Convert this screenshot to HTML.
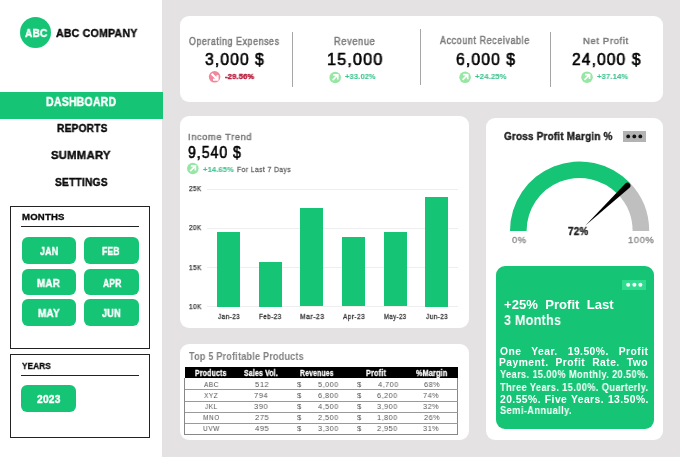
<!DOCTYPE html>
<html><head><meta charset="utf-8"><style>html,body{margin:0;padding:0;}body{width:680px;height:457px;position:relative;overflow:hidden;background:#e4e2e3;font-family:"Liberation Sans",sans-serif;}body>div,body>svg{position:absolute;box-sizing:content-box;}.t{white-space:nowrap;transform-origin:0 0;will-change:transform;}</style></head><body>
<div style="left:0px;top:0px;width:162.2px;height:457px;background:#fff;"></div>
<div style="left:20px;top:17px;width:31px;height:31px;border-radius:50%;background:#16c476"></div>
<div class="t" style="left:24.65px;top:27.50px;font-size:11.34px;line-height:11.34px;color:#fff;font-weight:bold;transform:scaleX(0.892);-webkit-text-stroke:0.4px #fff;letter-spacing:0.23px;">ABC</div>
<div class="t" style="left:56.34px;top:27.68px;font-size:11.19px;line-height:11.19px;color:#0a0a0a;font-weight:bold;transform:scaleX(0.946);-webkit-text-stroke:0.39px #0a0a0a;letter-spacing:0.22px;">ABC COMPANY</div>
<div style="left:0px;top:92px;width:163px;height:27px;background:#16c476;"></div>
<div class="t" style="left:46.11px;top:95.59px;font-size:12.06px;line-height:12.06px;color:#fff;font-weight:bold;transform:scaleX(0.874);-webkit-text-stroke:0.42px #fff;letter-spacing:0.24px;">DASHBOARD</div>
<div class="t" style="left:56.64px;top:122.38px;font-size:11.77px;line-height:11.77px;color:#0a0a0a;font-weight:bold;transform:scaleX(0.865);-webkit-text-stroke:0.41px #0a0a0a;letter-spacing:0.24px;">REPORTS</div>
<div class="t" style="left:51.06px;top:149.18px;font-size:11.77px;line-height:11.77px;color:#0a0a0a;font-weight:bold;transform:scaleX(0.961);-webkit-text-stroke:0.41px #0a0a0a;letter-spacing:0.24px;">SUMMARY</div>
<div class="t" style="left:54.74px;top:175.73px;font-size:11.77px;line-height:11.77px;color:#0a0a0a;font-weight:bold;transform:scaleX(0.869);-webkit-text-stroke:0.41px #0a0a0a;letter-spacing:0.24px;">SETTINGS</div>
<div style="left:10px;top:206px;width:138px;height:141px;border:1px solid #222"></div>
<div class="t" style="left:22.28px;top:212.08px;font-size:9.59px;line-height:9.59px;color:#0a0a0a;font-weight:bold;-webkit-text-stroke:0.34px #0a0a0a;letter-spacing:0.19px;">MONTHS</div>
<div style="left:21px;top:226px;width:118px;height:1px;background:#222;"></div>
<div style="left:21.5px;top:237px;width:54.5px;height:26.7px;border-radius:6px;background:#16c476"></div>
<div class="t" style="left:40.07px;top:246.74px;font-size:10.47px;line-height:10.47px;color:#fff;font-weight:bold;transform:scaleX(0.853);-webkit-text-stroke:0.37px #fff;letter-spacing:0.21px;">JAN</div>
<div style="left:84px;top:237px;width:54.7px;height:26.7px;border-radius:6px;background:#16c476"></div>
<div class="t" style="left:102.44px;top:246.74px;font-size:10.47px;line-height:10.47px;color:#fff;font-weight:bold;transform:scaleX(0.820);-webkit-text-stroke:0.37px #fff;letter-spacing:0.21px;">FEB</div>
<div style="left:21.5px;top:268.5px;width:54.5px;height:26.7px;border-radius:6px;background:#16c476"></div>
<div class="t" style="left:37.26px;top:278.94px;font-size:10.47px;line-height:10.47px;color:#fff;font-weight:bold;transform:scaleX(0.938);-webkit-text-stroke:0.37px #fff;letter-spacing:0.21px;">MAR</div>
<div style="left:84px;top:268.5px;width:54.7px;height:26.7px;border-radius:6px;background:#16c476"></div>
<div class="t" style="left:102.94px;top:278.94px;font-size:10.47px;line-height:10.47px;color:#fff;font-weight:bold;transform:scaleX(0.813);-webkit-text-stroke:0.37px #fff;letter-spacing:0.21px;">APR</div>
<div style="left:21.5px;top:299.2px;width:54.5px;height:26.7px;border-radius:6px;background:#16c476"></div>
<div class="t" style="left:37.95px;top:307.97px;font-size:10.61px;line-height:10.61px;color:#fff;font-weight:bold;transform:scaleX(0.938);-webkit-text-stroke:0.37px #fff;letter-spacing:0.21px;">MAY</div>
<div style="left:84px;top:299.2px;width:54.7px;height:26.7px;border-radius:6px;background:#16c476"></div>
<div class="t" style="left:102.26px;top:307.97px;font-size:10.61px;line-height:10.61px;color:#fff;font-weight:bold;transform:scaleX(0.866);-webkit-text-stroke:0.37px #fff;letter-spacing:0.21px;">JUN</div>
<div style="left:10px;top:354px;width:138px;height:82px;border:1px solid #222"></div>
<div class="t" style="left:22.08px;top:360.75px;font-size:9.45px;line-height:9.45px;color:#0a0a0a;font-weight:bold;transform:scaleX(0.865);-webkit-text-stroke:0.33px #0a0a0a;letter-spacing:0.19px;">YEARS</div>
<div style="left:21px;top:375px;width:118px;height:1px;background:#222;"></div>
<div style="left:21px;top:385px;width:55px;height:27px;border-radius:6px;background:#16c476"></div>
<div class="t" style="left:36.69px;top:394.91px;font-size:10.03px;line-height:10.03px;color:#fff;font-weight:bold;transform:scaleX(1.022);-webkit-text-stroke:0.35px #fff;letter-spacing:0.20px;">2023</div>
<div style="left:180px;top:16px;width:483px;height:85.7px;background:#fff;border-radius:9px"></div>
<div style="left:180px;top:116px;width:289px;height:212px;background:#fff;border-radius:9px"></div>
<div style="left:486px;top:118px;width:177px;height:322px;background:#fff;border-radius:9px"></div>
<div style="left:180px;top:343.5px;width:289px;height:96.5px;background:#fff;border-radius:9px"></div>
<div class="t" style="left:189.20px;top:36.66px;font-size:10.03px;line-height:10.03px;color:#7a7a7a;transform:scaleX(0.876);-webkit-text-stroke:0.45px #7a7a7a;letter-spacing:0.70px;">Operating Expenses</div>
<div class="t" style="left:205.20px;top:50.78px;font-size:17.15px;line-height:17.15px;color:#000;transform:scaleX(0.914);-webkit-text-stroke:0.65px #000;letter-spacing:1.20px;">3,000 $</div>
<div class="t" style="left:225.35px;top:73.38px;font-size:7.99px;line-height:7.99px;color:#b8203f;font-weight:bold;transform:scaleX(0.950);-webkit-text-stroke:0.45px #b8203f;letter-spacing:0.16px;">-29.56%</div>
<div class="t" style="left:333.96px;top:36.89px;font-size:10.17px;line-height:10.17px;color:#7a7a7a;transform:scaleX(0.907);-webkit-text-stroke:0.45px #7a7a7a;letter-spacing:0.71px;">Revenue</div>
<div class="t" style="left:326.78px;top:51.50px;font-size:16.72px;line-height:16.72px;color:#000;transform:scaleX(0.970);-webkit-text-stroke:0.64px #000;letter-spacing:1.17px;">15,000</div>
<div class="t" style="left:344.80px;top:72.98px;font-size:7.99px;line-height:7.99px;color:#40c290;font-weight:bold;transform:scaleX(0.937);-webkit-text-stroke:0.1px #40c290;letter-spacing:0.16px;">+33.02%</div>
<div class="t" style="left:440.00px;top:36.49px;font-size:10.17px;line-height:10.17px;color:#7a7a7a;transform:scaleX(0.876);-webkit-text-stroke:0.45px #7a7a7a;letter-spacing:0.71px;">Account Receivable</div>
<div class="t" style="left:455.76px;top:50.78px;font-size:17.15px;line-height:17.15px;color:#000;transform:scaleX(0.918);-webkit-text-stroke:0.65px #000;letter-spacing:1.20px;">6,000 $</div>
<div class="t" style="left:475.34px;top:72.98px;font-size:7.99px;line-height:7.99px;color:#40c290;font-weight:bold;transform:scaleX(0.965);-webkit-text-stroke:0.1px #40c290;letter-spacing:0.16px;">+24.25%</div>
<div class="t" style="left:583.35px;top:36.13px;font-size:9.88px;line-height:9.88px;color:#7a7a7a;transform:scaleX(0.954);-webkit-text-stroke:0.45px #7a7a7a;letter-spacing:0.69px;">Net Profit</div>
<div class="t" style="left:572.42px;top:50.96px;font-size:17.30px;line-height:17.30px;color:#000;transform:scaleX(0.903);-webkit-text-stroke:0.66px #000;letter-spacing:1.21px;">24,000 $</div>
<div class="t" style="left:596.70px;top:72.98px;font-size:7.99px;line-height:7.99px;color:#40c290;font-weight:bold;transform:scaleX(0.950);-webkit-text-stroke:0.1px #40c290;letter-spacing:0.16px;">+37.14%</div>
<div style="left:292px;top:32px;width:1px;height:55px;background:#a6a6a6;"></div>
<div style="left:420px;top:29px;width:1px;height:56px;background:#a6a6a6;"></div>
<div style="left:550px;top:32px;width:1px;height:55px;background:#a6a6a6;"></div>
<svg style="left:208px;top:70px" width="13" height="13" viewBox="-6.60 -6.80 13 13"><circle r="5.8" fill="#f0899c"/><path d="M-3,-3 L2.8,2.8 M2.9,-1.6 L2.9,2.9 L-1.6,2.9" stroke="#fff" stroke-width="2.1" fill="none" stroke-linecap="butt" stroke-linejoin="miter"/></svg>
<svg style="left:329px;top:71px" width="13" height="13" viewBox="-6.20 -6.50 13 13"><circle r="5.8" fill="#96e6a4"/><path d="M-2.6,2.6 L2.6,-2.6 M-1.9,-2.6 L2.6,-2.6 L2.6,1.9" stroke="#fff" stroke-width="1.7" fill="none" stroke-linecap="butt" stroke-linejoin="miter"/></svg>
<svg style="left:459px;top:71px" width="13" height="13" viewBox="-6.10 -6.30 13 13"><circle r="5.8" fill="#96e6a4"/><path d="M-2.6,2.6 L2.6,-2.6 M-1.9,-2.6 L2.6,-2.6 L2.6,1.9" stroke="#fff" stroke-width="1.7" fill="none" stroke-linecap="butt" stroke-linejoin="miter"/></svg>
<svg style="left:581px;top:71px" width="13" height="13" viewBox="-6.00 -6.20 13 13"><circle r="5.8" fill="#96e6a4"/><path d="M-2.6,2.6 L2.6,-2.6 M-1.9,-2.6 L2.6,-2.6 L2.6,1.9" stroke="#fff" stroke-width="1.7" fill="none" stroke-linecap="butt" stroke-linejoin="miter"/></svg>
<div class="t" style="left:188.32px;top:131.76px;font-size:9.74px;line-height:9.74px;color:#7a7a7a;transform:scaleX(0.947);-webkit-text-stroke:0.45px #7a7a7a;letter-spacing:0.68px;">Income Trend</div>
<div class="t" style="left:188.47px;top:145.07px;font-size:16.57px;line-height:16.57px;color:#000;transform:scaleX(0.849);-webkit-text-stroke:0.63px #000;letter-spacing:1.16px;">9,540 $</div>
<svg style="left:186px;top:162px" width="13" height="13" viewBox="-6.80 -6.50 13 13"><circle r="5.8" fill="#96e6a4"/><path d="M-2.6,2.6 L2.6,-2.6 M-1.9,-2.6 L2.6,-2.6 L2.6,1.9" stroke="#fff" stroke-width="1.7" fill="none" stroke-linecap="butt" stroke-linejoin="miter"/></svg>
<div class="t" style="left:203.00px;top:166.33px;font-size:7.70px;line-height:7.70px;color:#40c290;font-weight:bold;transform:scaleX(0.976);-webkit-text-stroke:0.1px #40c290;letter-spacing:0.15px;">+14.65%</div>
<div class="t" style="left:236.86px;top:166.33px;font-size:7.70px;line-height:7.70px;color:#666;transform:scaleX(0.868);-webkit-text-stroke:0.29px #666;letter-spacing:0.54px;">For Last 7 Days</div>
<div style="left:207px;top:189px;width:251px;height:1px;background:#eeeeee;"></div>
<div class="t" style="left:188.99px;top:185.83px;font-size:6.69px;line-height:6.69px;color:#333;transform:scaleX(0.935);-webkit-text-stroke:0.25px #333;letter-spacing:0.47px;">25K</div>
<div style="left:207px;top:228px;width:251px;height:1px;background:#eeeeee;"></div>
<div class="t" style="left:188.99px;top:225.23px;font-size:6.69px;line-height:6.69px;color:#333;transform:scaleX(0.935);-webkit-text-stroke:0.25px #333;letter-spacing:0.47px;">20K</div>
<div style="left:207px;top:267px;width:251px;height:1px;background:#eeeeee;"></div>
<div class="t" style="left:189.12px;top:264.63px;font-size:6.69px;line-height:6.69px;color:#333;transform:scaleX(0.948);-webkit-text-stroke:0.25px #333;letter-spacing:0.47px;">15K</div>
<div style="left:207px;top:306px;width:251px;height:1px;background:#eeeeee;"></div>
<div class="t" style="left:189.12px;top:304.03px;font-size:6.69px;line-height:6.69px;color:#333;transform:scaleX(0.948);-webkit-text-stroke:0.25px #333;letter-spacing:0.47px;">10K</div>
<div style="left:217.4px;top:232px;width:22.6px;height:74.5px;background:#16c476;"></div>
<div class="t" style="left:217.60px;top:312.96px;font-size:7.85px;line-height:7.85px;color:#333;transform:scaleX(0.814);-webkit-text-stroke:0.3px #333;letter-spacing:0.55px;">Jan-23</div>
<div style="left:259px;top:262px;width:22.6px;height:44.5px;background:#16c476;"></div>
<div class="t" style="left:259.40px;top:312.96px;font-size:7.85px;line-height:7.85px;color:#333;transform:scaleX(0.803);-webkit-text-stroke:0.3px #333;letter-spacing:0.55px;">Feb-23</div>
<div style="left:300.4px;top:208.2px;width:22.6px;height:98.3px;background:#16c476;"></div>
<div class="t" style="left:299.95px;top:312.96px;font-size:7.85px;line-height:7.85px;color:#333;transform:scaleX(0.871);-webkit-text-stroke:0.3px #333;letter-spacing:0.55px;">Mar-23</div>
<div style="left:342.4px;top:236.7px;width:22.6px;height:69.8px;background:#16c476;"></div>
<div class="t" style="left:342.70px;top:312.96px;font-size:7.85px;line-height:7.85px;color:#333;transform:scaleX(0.824);-webkit-text-stroke:0.3px #333;letter-spacing:0.55px;">Apr-23</div>
<div style="left:384px;top:232.1px;width:22.6px;height:74.4px;background:#16c476;"></div>
<div class="t" style="left:384.42px;top:312.96px;font-size:7.85px;line-height:7.85px;color:#333;transform:scaleX(0.765);-webkit-text-stroke:0.3px #333;letter-spacing:0.55px;">May-23</div>
<div style="left:425.3px;top:197px;width:22.6px;height:109.5px;background:#16c476;"></div>
<div class="t" style="left:426.00px;top:312.96px;font-size:7.85px;line-height:7.85px;color:#333;transform:scaleX(0.814);-webkit-text-stroke:0.3px #333;letter-spacing:0.55px;">Jun-23</div>
<div class="t" style="left:504.25px;top:130.60px;font-size:11.34px;line-height:11.34px;color:#222;font-weight:bold;transform:scaleX(0.877);-webkit-text-stroke:0.4px #222;letter-spacing:0.23px;">Gross Profit Margin %</div>
<div style="left:623px;top:131.3px;width:22.6px;height:10.3px;background:#b3b3b3"></div>
<svg style="left:0;top:0" width="680" height="457"><circle cx="628.2" cy="136.4" r="1.9" fill="#111"/><circle cx="634.3" cy="136.4" r="1.9" fill="#111"/><circle cx="640.3" cy="136.4" r="1.9" fill="#111"/></svg>
<svg style="left:0;top:0" width="680" height="457"><path d="M510.00,231.00 A69.6,69.6 0 0 1 629.83,182.83 L617.85,194.32 A53,53 0 0 0 526.60,231.00 Z" fill="#16c476"/><path d="M629.83,182.83 A69.6,69.6 0 0 1 649.20,231.00 L632.60,231.00 A53,53 0 0 0 617.85,194.32 Z" fill="#bfbfbf"/><path d="M585.4029949680984,225.49316339444997 L629.54,187.74 A3,3 0 0 0 625.41,183.39 Z" fill="#000"/></svg>
<div class="t" style="left:568.21px;top:226.91px;font-size:10.32px;line-height:10.32px;color:#222;font-weight:bold;transform:scaleX(0.957);-webkit-text-stroke:0.36px #222;letter-spacing:0.21px;">72%</div>
<div class="t" style="left:511.93px;top:235.41px;font-size:9.74px;line-height:9.74px;color:#8c8c8c;transform:scaleX(0.956);-webkit-text-stroke:0.35px #8c8c8c;letter-spacing:0.68px;">0%</div>
<div class="t" style="left:627.70px;top:235.41px;font-size:9.74px;line-height:9.74px;color:#8c8c8c;transform:scaleX(0.957);-webkit-text-stroke:0.35px #8c8c8c;letter-spacing:0.68px;">100%</div>
<div style="left:496.4px;top:266px;width:158px;height:163px;border-radius:9px;background:#16c476"></div>
<div style="left:622.4px;top:279.6px;width:23.6px;height:10.2px;background:#2fdc8e"></div>
<svg style="left:0;top:0" width="680" height="457"><circle cx="628.2" cy="284.7" r="2" fill="#fff"/><circle cx="634.4" cy="284.7" r="2" fill="#fff"/><circle cx="640.4" cy="284.7" r="2" fill="#fff"/></svg>
<div class="t" style="left:503.88px;top:298.03px;font-size:13.08px;line-height:13.08px;color:#fff;font-weight:bold;word-spacing:3.78px;">+25% Profit Last</div>
<div class="t" style="left:503.80px;top:312.87px;font-size:14.10px;line-height:14.10px;color:#fff;font-weight:bold;transform:scaleX(0.893);letter-spacing:0.28px;">3 Months</div>
<div class="t" style="left:500.34px;top:346.86px;font-size:10.32px;line-height:10.32px;color:#fff;font-weight:bold;word-spacing:6.76px;letter-spacing:0.45px;">One Year. 19.50%. Profit</div>
<div class="t" style="left:498.93px;top:358.41px;font-size:10.32px;line-height:10.32px;color:#fff;font-weight:bold;word-spacing:3.74px;letter-spacing:0.45px;">Payment. Profit Rate. Two</div>
<div class="t" style="left:500.26px;top:369.81px;font-size:10.32px;line-height:10.32px;color:#fff;font-weight:bold;transform:scaleX(0.890);letter-spacing:0.45px;">Years. 15.00% Monthly. 20.50%.</div>
<div class="t" style="left:500.31px;top:382.56px;font-size:10.32px;line-height:10.32px;color:#fff;font-weight:bold;transform:scaleX(0.891);letter-spacing:0.45px;">Three Years. 15.00%. Quarterly.</div>
<div class="t" style="left:500.04px;top:395.01px;font-size:10.32px;line-height:10.32px;color:#fff;font-weight:bold;word-spacing:0.55px;letter-spacing:0.45px;">20.55%. Five Years. 13.50%.</div>
<div class="t" style="left:500.42px;top:406.36px;font-size:10.32px;line-height:10.32px;color:#fff;font-weight:bold;transform:scaleX(0.899);letter-spacing:0.45px;">Semi-Annually.</div>
<div class="t" style="left:188.66px;top:351.17px;font-size:10.61px;line-height:10.61px;color:#808080;font-weight:bold;transform:scaleX(0.860);letter-spacing:0.21px;">Top 5 Profitable Products</div>
<div style="left:184.8px;top:367px;width:273px;height:11px;background:#000;"></div>
<div class="t" style="left:195.24px;top:369.89px;font-size:8.28px;line-height:8.28px;color:#fff;font-weight:bold;transform:scaleX(0.848);-webkit-text-stroke:0.29px #fff;letter-spacing:0.17px;">Products</div>
<div class="t" style="left:243.69px;top:369.89px;font-size:8.28px;line-height:8.28px;color:#fff;font-weight:bold;transform:scaleX(0.844);-webkit-text-stroke:0.29px #fff;letter-spacing:0.17px;">Sales Vol.</div>
<div class="t" style="left:299.65px;top:369.89px;font-size:8.28px;line-height:8.28px;color:#fff;font-weight:bold;transform:scaleX(0.832);-webkit-text-stroke:0.29px #fff;letter-spacing:0.17px;">Revenues</div>
<div class="t" style="left:366.17px;top:369.89px;font-size:8.28px;line-height:8.28px;color:#fff;font-weight:bold;transform:scaleX(0.884);-webkit-text-stroke:0.29px #fff;letter-spacing:0.17px;">Profit</div>
<div class="t" style="left:416.12px;top:369.89px;font-size:8.28px;line-height:8.28px;color:#fff;font-weight:bold;transform:scaleX(0.879);-webkit-text-stroke:0.29px #fff;letter-spacing:0.17px;">%Margin</div>
<div style="left:184.3px;top:378px;width:272px;height:56px;border:1px solid #888;border-top:none"></div>
<div style="left:184.8px;top:389.3px;width:273px;height:1px;background:#9a9a9a;"></div>
<div style="left:184.8px;top:400.5px;width:273px;height:1px;background:#9a9a9a;"></div>
<div style="left:184.8px;top:411.5px;width:273px;height:1px;background:#9a9a9a;"></div>
<div style="left:184.8px;top:423.2px;width:273px;height:1px;background:#9a9a9a;"></div>
<div class="t" style="left:204.27px;top:381.16px;font-size:7.85px;line-height:7.85px;color:#555555;transform:scaleX(0.842);letter-spacing:0.55px;">ABC</div>
<div class="t" style="left:254.51px;top:381.16px;font-size:7.85px;line-height:7.85px;color:#555555;transform:scaleX(0.964);letter-spacing:0.55px;">512</div>
<div class="t" style="left:297.31px;top:381.16px;font-size:7.85px;line-height:7.85px;color:#555555;transform:scaleX(0.950);letter-spacing:0.55px;">$</div>
<div class="t" style="left:317.71px;top:381.16px;font-size:7.85px;line-height:7.85px;color:#555555;transform:scaleX(0.923);letter-spacing:0.55px;">5,000</div>
<div class="t" style="left:356.51px;top:381.16px;font-size:7.85px;line-height:7.85px;color:#555555;transform:scaleX(0.950);letter-spacing:0.55px;">$</div>
<div class="t" style="left:377.71px;top:381.16px;font-size:7.85px;line-height:7.85px;color:#555555;transform:scaleX(0.924);letter-spacing:0.55px;">4,700</div>
<div class="t" style="left:424.22px;top:381.16px;font-size:7.85px;line-height:7.85px;color:#555555;transform:scaleX(0.932);letter-spacing:0.55px;">68%</div>
<div class="t" style="left:204.26px;top:392.41px;font-size:7.85px;line-height:7.85px;color:#555555;transform:scaleX(0.838);letter-spacing:0.55px;">XYZ</div>
<div class="t" style="left:254.27px;top:392.41px;font-size:7.85px;line-height:7.85px;color:#555555;transform:scaleX(0.965);letter-spacing:0.55px;">794</div>
<div class="t" style="left:297.31px;top:392.41px;font-size:7.85px;line-height:7.85px;color:#555555;transform:scaleX(0.950);letter-spacing:0.55px;">$</div>
<div class="t" style="left:317.79px;top:392.41px;font-size:7.85px;line-height:7.85px;color:#555555;transform:scaleX(0.923);letter-spacing:0.55px;">6,800</div>
<div class="t" style="left:356.51px;top:392.41px;font-size:7.85px;line-height:7.85px;color:#555555;transform:scaleX(0.950);letter-spacing:0.55px;">$</div>
<div class="t" style="left:377.35px;top:392.41px;font-size:7.85px;line-height:7.85px;color:#555555;transform:scaleX(0.923);letter-spacing:0.55px;">6,200</div>
<div class="t" style="left:423.02px;top:392.41px;font-size:7.85px;line-height:7.85px;color:#555555;transform:scaleX(0.932);letter-spacing:0.55px;">74%</div>
<div class="t" style="left:204.59px;top:402.76px;font-size:7.85px;line-height:7.85px;color:#555555;transform:scaleX(0.831);letter-spacing:0.55px;">JKL</div>
<div class="t" style="left:254.36px;top:402.76px;font-size:7.85px;line-height:7.85px;color:#555555;transform:scaleX(0.965);letter-spacing:0.55px;">390</div>
<div class="t" style="left:297.31px;top:402.76px;font-size:7.85px;line-height:7.85px;color:#555555;transform:scaleX(0.950);letter-spacing:0.55px;">$</div>
<div class="t" style="left:317.53px;top:402.76px;font-size:7.85px;line-height:7.85px;color:#555555;transform:scaleX(0.924);letter-spacing:0.55px;">4,500</div>
<div class="t" style="left:356.51px;top:402.76px;font-size:7.85px;line-height:7.85px;color:#555555;transform:scaleX(0.950);letter-spacing:0.55px;">$</div>
<div class="t" style="left:377.28px;top:402.76px;font-size:7.85px;line-height:7.85px;color:#555555;transform:scaleX(0.924);letter-spacing:0.55px;">3,900</div>
<div class="t" style="left:423.07px;top:402.76px;font-size:7.85px;line-height:7.85px;color:#555555;transform:scaleX(0.932);letter-spacing:0.55px;">32%</div>
<div class="t" style="left:203.28px;top:414.06px;font-size:7.85px;line-height:7.85px;color:#555555;transform:scaleX(0.846);letter-spacing:0.55px;">MNO</div>
<div class="t" style="left:255.33px;top:414.06px;font-size:7.85px;line-height:7.85px;color:#555555;transform:scaleX(0.964);letter-spacing:0.55px;">275</div>
<div class="t" style="left:297.31px;top:414.06px;font-size:7.85px;line-height:7.85px;color:#555555;transform:scaleX(0.950);letter-spacing:0.55px;">$</div>
<div class="t" style="left:317.79px;top:414.06px;font-size:7.85px;line-height:7.85px;color:#555555;transform:scaleX(0.923);letter-spacing:0.55px;">2,500</div>
<div class="t" style="left:356.51px;top:414.06px;font-size:7.85px;line-height:7.85px;color:#555555;transform:scaleX(0.950);letter-spacing:0.55px;">$</div>
<div class="t" style="left:376.98px;top:414.06px;font-size:7.85px;line-height:7.85px;color:#555555;transform:scaleX(0.922);letter-spacing:0.55px;">1,800</div>
<div class="t" style="left:424.22px;top:414.06px;font-size:7.85px;line-height:7.85px;color:#555555;transform:scaleX(0.932);letter-spacing:0.55px;">26%</div>
<div class="t" style="left:203.14px;top:425.36px;font-size:7.85px;line-height:7.85px;color:#555555;transform:scaleX(0.847);letter-spacing:0.55px;">UVW</div>
<div class="t" style="left:254.53px;top:425.36px;font-size:7.85px;line-height:7.85px;color:#555555;transform:scaleX(0.966);letter-spacing:0.55px;">495</div>
<div class="t" style="left:297.31px;top:425.36px;font-size:7.85px;line-height:7.85px;color:#555555;transform:scaleX(0.950);letter-spacing:0.55px;">$</div>
<div class="t" style="left:317.66px;top:425.36px;font-size:7.85px;line-height:7.85px;color:#555555;transform:scaleX(0.924);letter-spacing:0.55px;">3,300</div>
<div class="t" style="left:356.51px;top:425.36px;font-size:7.85px;line-height:7.85px;color:#555555;transform:scaleX(0.950);letter-spacing:0.55px;">$</div>
<div class="t" style="left:377.35px;top:425.36px;font-size:7.85px;line-height:7.85px;color:#555555;transform:scaleX(0.923);letter-spacing:0.55px;">2,950</div>
<div class="t" style="left:423.07px;top:425.36px;font-size:7.85px;line-height:7.85px;color:#555555;transform:scaleX(0.932);letter-spacing:0.55px;">31%</div>
</body></html>
